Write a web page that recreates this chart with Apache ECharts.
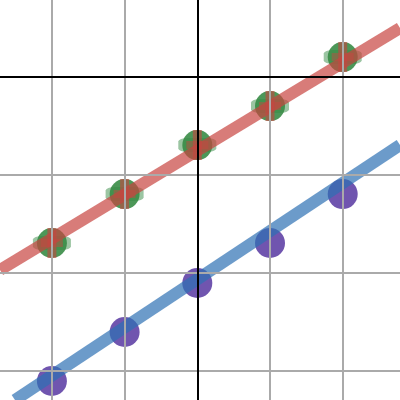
<!DOCTYPE html>
<html><head><meta charset="utf-8">
<script src="https://cdn.jsdelivr.net/npm/echarts@6/dist/echarts.min.js"></script>
<style>html,body{margin:0;padding:0;background:#fff}#c{width:400px;height:400px}</style>
</head><body><div id="c"></div>
<script>
const xs = [-2, -1, 0, 1, 2];
const blueY = [-3.105, -2.605, -2.105, -1.697, -1.197];
const greenY = [-1.697, -1.197, -0.697, -0.299, 0.201];
const redLine = [[-2.714, -1.972], [2.788, 0.497]];
const blueLine = [[-2.508, -3.299], [2.788, -0.697]];
const xGrid = [-2, -1, 1, 2];
const yGrid = [-1, -2, -3];

const chart = echarts.init(document.getElementById('c'));
const gl = v => ({xAxis: v});
const gy = v => ({yAxis: v});
chart.setOption({
  animation: false,
  grid: {left: 0, right: 0, top: 0, bottom: 0},
  xAxis: {type: 'value', min: -2.714, max: 2.788, show: false, splitLine: {show: false}},
  yAxis: {type: 'value', min: -3.299, max: 0.783, show: false, splitLine: {show: false}},
  series: [
    {type: 'line', data: [], markLine: {silent: true, symbol: 'none', label: {show: false},
      lineStyle: {color: '#aaa', width: 2, type: 'solid'},
      data: xGrid.map(gl).concat(yGrid.map(gy))}},
    {type: 'line', data: [], markLine: {silent: true, symbol: 'none', label: {show: false},
      lineStyle: {color: '#000', width: 2, type: 'solid'},
      data: [gl(0), gy(0)]}},
    {type: 'line', data: redLine, symbol: 'none', lineStyle: {color: '#c74440', width: 12, opacity: 0.7}},
    {type: 'line', data: blueLine, symbol: 'none', lineStyle: {color: '#2d70b3', width: 12, opacity: 0.7}},
    {type: 'scatter', data: xs.map((x, i) => [x, blueY[i]]), symbolSize: 30,
      itemStyle: {color: '#6042a6', opacity: 0.9}},
    {type: 'scatter', data: xs.map((x, i) => [x, greenY[i]]), symbol: 'roundRect', symbolSize: [38, 14],
      itemStyle: {color: '#388c46', opacity: 0.5}},
    {type: 'scatter', data: xs.map((x, i) => [x, greenY[i]]), symbolSize: 30,
      itemStyle: {color: '#388c46', opacity: 0.9}},
    {type: 'scatter', data: xs.map((x, i) => [x, greenY[i]]), symbol: 'rect', symbolSize: [9, 30],
      itemStyle: {color: '#c74440', opacity: 0.6}},
    {type: 'scatter', data: xs.map((x, i) => [x, greenY[i]]), symbol: 'rect', symbolSize: [22, 8],
      itemStyle: {color: '#c74440', opacity: 0.45}}
  ]
});
</script></body></html>
